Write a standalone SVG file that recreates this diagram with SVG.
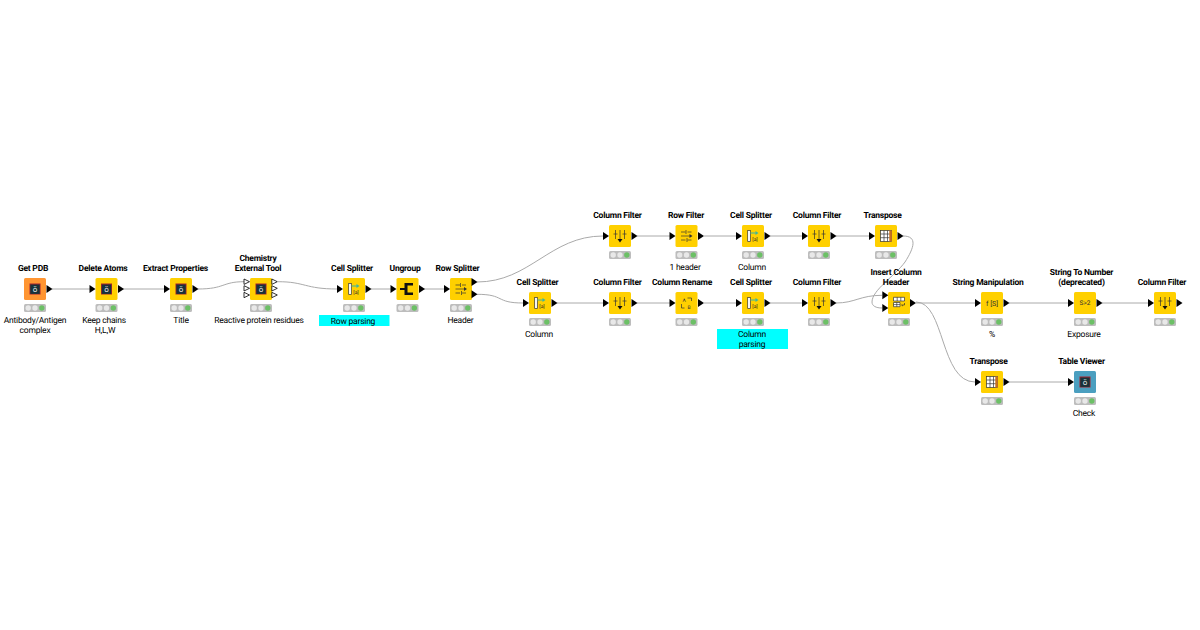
<svg xmlns="http://www.w3.org/2000/svg" width="1200" height="630" viewBox="0 0 1200 630">
<style>
text{font-family:Roboto,"Liberation Sans",sans-serif;font-size:8.500px;letter-spacing:-.22px;text-rendering:geometricPrecision;fill:#000;text-anchor:middle}
.t{font-weight:700}
.c{fill:none;stroke:#aaa;stroke-width:1}
.i{fill:none;stroke:#333;stroke-width:.7}
.o{fill:#fff;stroke:#000;stroke-width:.8}
</style>
<defs>
<g id="status"><rect x="-11" y="15" width="22" height="8" rx="1.500" fill="#bdbdbd"/><circle cx="-6.800" cy="19" r="2.700" fill="#e8e8e8"/><circle cx="0" cy="19" r="2.700" fill="#e8e8e8"/><circle cx="6.800" cy="19" r="2.700" fill="#6cc066"/></g>
<path id="port" d="M0-4L6 0L0 4Z" fill="#000"/>
<g id="ports"><use href="#port" x="-17"/><use href="#port" x="11.500"/></g>
<rect id="y" x="-11" y="-11" width="22" height="22" rx="1.500" fill="#ffd000"/>
<g id="qr"><rect x="-5.500" y="-5.500" width="11" height="11" fill="#a8232c"/><rect x="-4.700" y="-4.500" width="9.400" height="9.400" fill="#17323a"/><text y="3" style="font-size:7.500px;letter-spacing:0;fill:#e8e8e8;font-family:'DejaVu Sans',sans-serif">ö</text></g>
<g id="cf"><path class="i" d="M-4.500-6V3M0-6V4M4.500-6V3M-6.500-2H-2.500M2.500-2H6.500"/><path d="M-2.500 3L0 6.500L2.500 3Z" fill="#111"/></g>
<g id="cs"><rect x="-5.300" y="-5.500" width="2.600" height="11" fill="#fff" stroke="#333" stroke-width=".7"/><path d="M-2.500-3H3" stroke="#3cb5a0" stroke-width="1" fill="none"/><path d="M2.500-5L5.500-3L2.500-1Z" fill="#3cb5a0"/><text x="2" y="4.500" style="font-size:5px;letter-spacing:0;fill:#222">[a]</text></g>
<g id="rf"><path class="i" d="M-5.500-4H-1M1-4H5M-5.500 0H4M-5.500 4H-1M1 4H5M-.5-6V-2M.5 2V6" stroke-width=".8"/><path d="M3-2L6 0L3 2Z" fill="#333"/></g>
<g id="tr"><rect x="-5.500" y="-5.500" width="11" height="11" fill="#fff" stroke="#333" stroke-width=".7"/><path class="i" d="M-2-5.500V5.500M1.500-5.500V5.500M-5.500-2H4M-5.500 1.700H4"/><rect x="3.300" y="-5.500" width="2.500" height="11" fill="#c9701f"/></g>
</defs>
<g id="connectors">
<path class="c" d="M52 289H90"/>
<path class="c" d="M123 289H165"/>
<path class="c" d="M198 289C225 289 222 281.700 244 281.700"/>
<path class="c" d="M278 281.700C305 281.700 305 289 337 289"/>
<path class="c" d="M371 289H391"/>
<path class="c" d="M424 289H444"/>
<path class="c" d="M477 282C530 282 550 236 603 236"/>
<path class="c" d="M477 294.300C505 294.300 495 303 523 303"/>
<path class="c" d="M557 303H603"/>
<path class="c" d="M637 303H670"/>
<path class="c" d="M704 303H736"/>
<path class="c" d="M770 303H802"/>
<path class="c" d="M637 236H670"/>
<path class="c" d="M704 236H736"/>
<path class="c" d="M770 236H802"/>
<path class="c" d="M836 236H869"/>
<path class="c" d="M903 236C918 236 914 248 905 262C895 276 872 290 872 302C872 306 876 308 882 308"/>
<path class="c" d="M836 303C855 303 860 295.300 882 295.300"/>
<path class="c" d="M916 303H975"/>
<path class="c" d="M916 302C945 302 940 382 975 382"/>
<path class="c" d="M1009 303H1068"/>
<path class="c" d="M1102 303H1148"/>
<path class="c" d="M1009 382H1068"/>
</g>
<g id="ann1"><rect x="319" y="315" width="70.500" height="11" fill="#00ffff"/><text x="353" y="323.500">Row parsing</text></g>
<g id="ann2"><rect x="717" y="329" width="71" height="20" fill="#00ffff"/><text x="752" y="337">Column</text><text x="752" y="347">parsing</text></g>

<g id="n1" transform="translate(35 289)"><rect x="-11" y="-11" width="22" height="22" rx="1.500" fill="#ff9532"/><use href="#qr"/><use href="#port" x="11.500"/><use href="#status"/><text class="t" x="-2" y="-18">Get PDB</text><text y="34">Antibody/Antigen</text><text y="44">complex</text></g>
<g id="n2" transform="translate(106.500 289)"><use href="#y"/><use href="#qr"/><use href="#ports"/><use href="#status"/><text class="t" x="-3.500" y="-18">Delete Atoms</text><text x="-2.500" y="34">Keep chains</text><text x="-1.500" y="44">H,L,W</text></g>
<g id="n3" transform="translate(181 289)"><use href="#y"/><use href="#qr"/><use href="#ports"/><use href="#status"/><text class="t" x="-5.500" y="-18">Extract Properties</text><text y="34">Title</text></g>
<g id="n4" transform="translate(261 289)"><use href="#y"/><use href="#qr"/><path class="o" d="M-17-10L-11.500-7.300L-17-4.600ZM-17-3.300L-11.500-.7L-17 2ZM-17 3.300L-11.500 6L-17 8.700ZM10.800-10L16.300-7.300L10.800-4.600ZM10.800-3.300L16.300-.7L10.800 2ZM10.800 3.300L16.300 6L10.800 8.700Z"/><use href="#status"/><text class="t" x="-3" y="-28">Chemistry</text><text class="t" x="-3" y="-18">External Tool</text><text x="-2" y="34">Reactive protein residues</text></g>
<g id="n5" transform="translate(354 289)"><use href="#y"/><use href="#cs"/><use href="#ports"/><use href="#status"/><text class="t" x="-2" y="-18">Cell Splitter</text></g>
<g id="n6" transform="translate(407.500 289)"><use href="#y"/><path d="M-7.500-1H-3V-6H5.500V-3.500H0V3.500H5.500V6H-3V1H-7.500Z" fill="#111"/><use href="#ports"/><use href="#status"/><text class="t" x="-2.500" y="-18">Ungroup</text></g>
<g id="n7" transform="translate(461 289)"><use href="#y"/><use href="#rf"/><use href="#port" x="-17"/><use href="#port" x="10.500" y="-7"/><use href="#port" x="10.500" y="5.300"/><use href="#status"/><text class="t" x="-3.500" y="-18">Row Splitter</text><text x="-.5" y="34">Header</text></g>
<g id="n8" transform="translate(540 303)"><use href="#y"/><use href="#cs"/><use href="#ports"/><use href="#status"/><text class="t" x="-2.500" y="-18">Cell Splitter</text><text x="-1" y="34">Column</text></g>
<g id="n9" transform="translate(620 236)"><use href="#y"/><use href="#cf"/><use href="#ports"/><use href="#status"/><text class="t" x="-2.500" y="-18">Column Filter</text></g>
<g id="n10" transform="translate(686.500 236)"><use href="#y"/><use href="#rf"/><use href="#ports"/><use href="#status"/><text class="t" x="-.5" y="-18">Row Filter</text><text x="-1.500" y="34">1 header</text></g>
<g id="n11" transform="translate(753 236)"><use href="#y"/><use href="#cs"/><use href="#ports"/><use href="#status"/><text class="t" x="-2" y="-18">Cell Splitter</text><text x="-1" y="34">Column</text></g>
<g id="n12" transform="translate(819 236)"><use href="#y"/><use href="#cf"/><use href="#ports"/><use href="#status"/><text class="t" x="-2" y="-18">Column Filter</text></g>
<g id="n13" transform="translate(886 236)"><use href="#y"/><use href="#tr"/><use href="#ports"/><use href="#status"/><text class="t" x="-3.500" y="-18">Transpose</text></g>
<g id="n14" transform="translate(620 303)"><use href="#y"/><use href="#cf"/><use href="#ports"/><use href="#status"/><text class="t" x="-2.500" y="-18">Column Filter</text></g>
<g id="n15" transform="translate(686.500 303)"><use href="#y"/><path class="i" d="M1-5H5V-2M-5 5V1M-5 5H-2"/><text y="-1.500" x="-2.500" style="font-size:5px;letter-spacing:0;fill:#333">A</text><text y="5.500" x="2.500" style="font-size:5px;letter-spacing:0;fill:#333">B</text><use href="#ports"/><use href="#status"/><text class="t" x="-4.500" y="-18">Column Rename</text></g>
<g id="n16" transform="translate(753 303)"><use href="#y"/><use href="#cs"/><use href="#ports"/><use href="#status"/><text class="t" x="-2" y="-18">Cell Splitter</text></g>
<g id="n17" transform="translate(819 303)"><use href="#y"/><use href="#cf"/><use href="#ports"/><use href="#status"/><text class="t" x="-2" y="-18">Column Filter</text></g>
<g id="n18" transform="translate(899 303)"><use href="#y"/><path d="M-5.500-5.700H5.500V-2H-5.500ZM-5.500-.5H1V3.700H-5.500Z" fill="#fff" stroke="#333" stroke-width=".7"/><path class="i" d="M-1.800-5.700V-2M1.800-5.700V-2M-2.200-.5V3.700M-5.500 1.600H1M2.500 2H5.500V0M2.500 2L4 3"/><use href="#port" x="-16.700" y="-7.700"/><use href="#port" x="-16.700" y="5"/><use href="#port" x="11"/><use href="#status"/><text class="t" x="-3" y="-28">Insert Column</text><text class="t" x="-3" y="-18">Header</text></g>
<g id="n19" transform="translate(992 303)"><use href="#y"/><text y="2.500" style="font-size:7px;letter-spacing:0;fill:#333">f [S]</text><use href="#ports"/><use href="#status"/><text class="t" x="-4" y="-18">String Manipulation</text><text y="34">%</text></g>
<g id="n20" transform="translate(1085 303)"><use href="#y"/><text y="2.300" style="font-size:6.500px;letter-spacing:0;fill:#333">S&gt;2</text><use href="#ports"/><use href="#status"/><text class="t" x="-3.500" y="-28">String To Number</text><text class="t" x="-3.500" y="-18">(deprecated)</text><text x="-1" y="34">Exposure</text></g>
<g id="n21" transform="translate(1165 303)"><use href="#y"/><use href="#cf"/><use href="#ports"/><use href="#status"/><text class="t" x="-3" y="-18">Column Filter</text></g>
<g id="n22" transform="translate(992 382)"><use href="#y"/><use href="#tr"/><use href="#ports"/><use href="#status"/><text class="t" x="-3.500" y="-18">Transpose</text></g>
<g id="n23" transform="translate(1085 382)"><rect x="-11" y="-11" width="22" height="22" rx="1.500" fill="#4b9fc0"/><use href="#qr"/><use href="#port" x="-17"/><use href="#status"/><text class="t" x="-3.500" y="-18">Table Viewer</text><text x="-1" y="34">Check</text></g>
</svg>
